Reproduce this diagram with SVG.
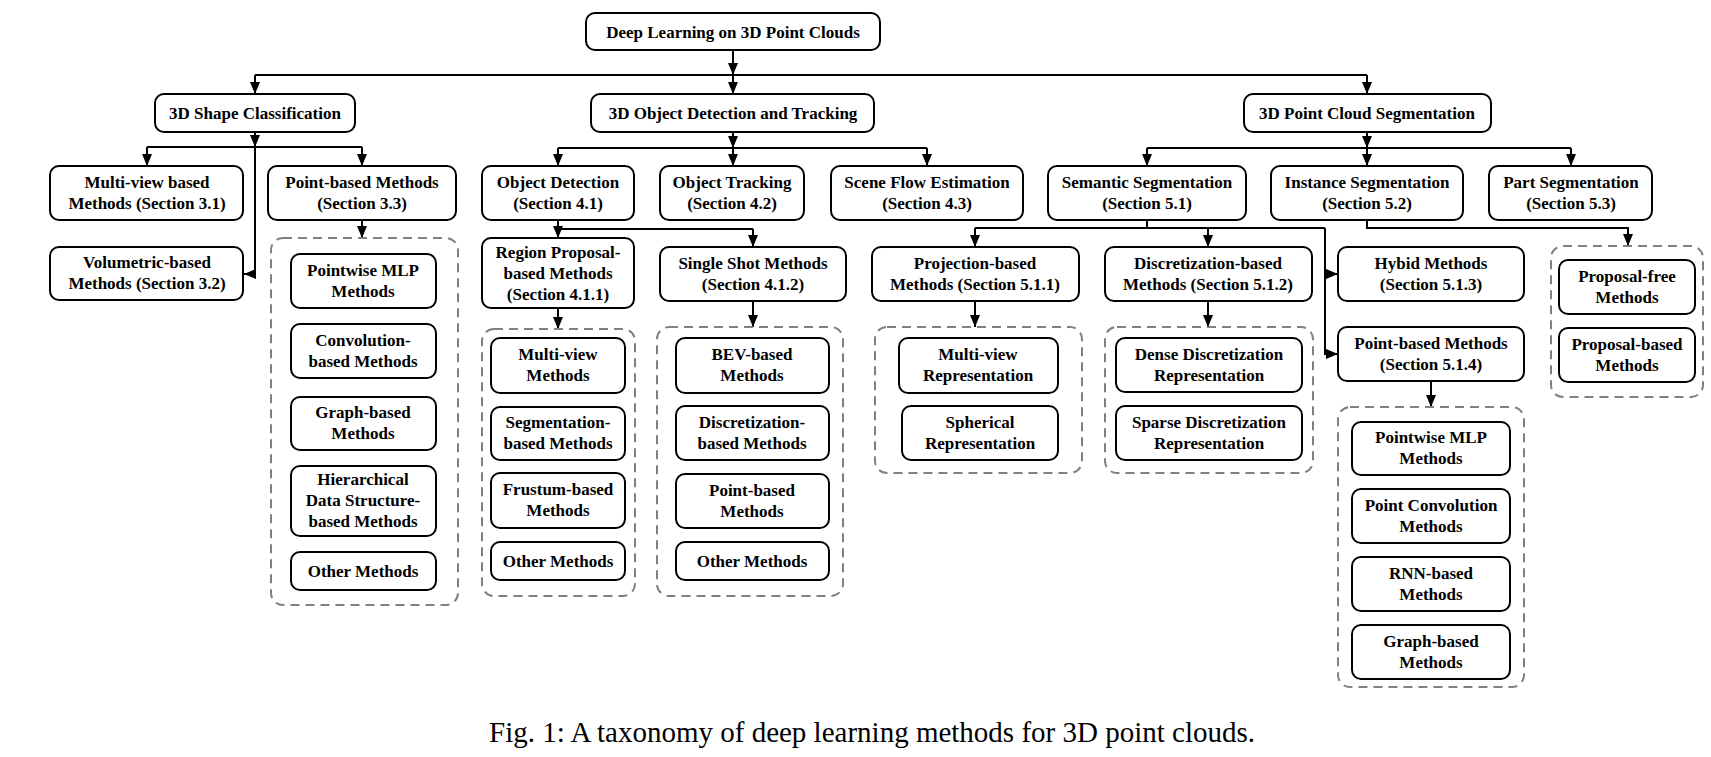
<svg xmlns="http://www.w3.org/2000/svg" width="1711" height="757" viewBox="0 0 1711 757">
<style>
.n{fill:#fff;stroke:#000;stroke-width:2}
.d{fill:none;stroke:#808080;stroke-width:2;stroke-dasharray:9 6}
text{font-family:"Liberation Serif","Times New Roman",serif;font-weight:bold;font-size:17px;text-anchor:middle;fill:#000}
.c{fill:none;stroke:#000;stroke-width:2}
.cap{font-weight:normal;font-size:29px}
</style>
<defs>
<marker id="a" markerUnits="userSpaceOnUse" markerWidth="12" markerHeight="10" refX="12" refY="5" orient="auto"><path d="M0,0 L12,5 L0,10 Z" fill="#000"/></marker>
</defs>
<rect width="1711" height="757" fill="#fff"/>
<g id="connectors" class="c">
<path d="M733,50V75" marker-end="url(#a)"/>
<path d="M255,75H1367"/>
<path d="M255,75V94" marker-end="url(#a)"/>
<path d="M733,75V94" marker-end="url(#a)"/>
<path d="M1367,75V94" marker-end="url(#a)"/>
<path d="M255,132V147" marker-end="url(#a)"/>
<path d="M147,147H362"/>
<path d="M147,147V166" marker-end="url(#a)"/>
<path d="M362,147V166" marker-end="url(#a)"/>
<path d="M255,147V274H244" marker-end="url(#a)"/>
<path d="M362,220V238" marker-end="url(#a)"/>
<path d="M733,132V148" marker-end="url(#a)"/>
<path d="M558,148H927"/>
<path d="M558,148V166" marker-end="url(#a)"/>
<path d="M733,148V166" marker-end="url(#a)"/>
<path d="M927,148V166" marker-end="url(#a)"/>
<path d="M558,220V229H753"/>
<path d="M558,229V238" marker-end="url(#a)"/>
<path d="M753,229V247" marker-end="url(#a)"/>
<path d="M558,308V329" marker-end="url(#a)"/>
<path d="M753,301V327" marker-end="url(#a)"/>
<path d="M1367,132V148" marker-end="url(#a)"/>
<path d="M1147,148H1571"/>
<path d="M1147,148V166" marker-end="url(#a)"/>
<path d="M1367,148V166" marker-end="url(#a)"/>
<path d="M1571,148V166" marker-end="url(#a)"/>
<path d="M1147,220V228H1325"/>
<path d="M975,228H1147"/>
<path d="M975,228V247" marker-end="url(#a)"/>
<path d="M1208,228V247" marker-end="url(#a)"/>
<path d="M1325,228V354H1338" marker-end="url(#a)"/>
<path d="M1325,274H1338" marker-end="url(#a)"/>
<path d="M1367,220V228H1628V246" marker-end="url(#a)"/>
<path d="M975,301V327" marker-end="url(#a)"/>
<path d="M1208,301V327" marker-end="url(#a)"/>
<path d="M1431,381V407" marker-end="url(#a)"/>
</g>
<g id="groups">
<rect class="d" x="271" y="238" width="187" height="367" rx="12"/>
<rect class="d" x="482" y="329" width="153" height="267" rx="12"/>
<rect class="d" x="657" y="327" width="186" height="269" rx="12"/>
<rect class="d" x="875" y="327" width="207" height="146" rx="12"/>
<rect class="d" x="1105" y="327" width="208" height="146" rx="12"/>
<rect class="d" x="1338" y="407" width="186" height="280" rx="12"/>
<rect class="d" x="1551" y="246" width="152" height="151" rx="12"/>
</g>
<g id="root"><rect class="n" x="586" y="13" width="294" height="37" rx="9"/><text x="733" y="38">Deep Learning on 3D Point Clouds</text></g>
<g id="shape"><rect class="n" x="155" y="94" width="200" height="38" rx="9"/><text x="255" y="119">3D Shape Classification</text></g>
<g id="objdet"><rect class="n" x="591" y="94" width="283" height="38" rx="9"/><text x="733" y="119">3D Object Detection and Tracking</text></g>
<g id="seg"><rect class="n" x="1244" y="94" width="247" height="38" rx="9"/><text x="1367" y="119">3D Point Cloud Segmentation</text></g>

<g id="mv"><rect class="n" x="50" y="166" width="193" height="54" rx="9"/><text x="147" y="188">Multi-view based<tspan x="147" dy="21">Methods (Section 3.1)</tspan></text></g>
<g id="vol"><rect class="n" x="50" y="247" width="193" height="53" rx="9"/><text x="147" y="268">Volumetric-based<tspan x="147" dy="21">Methods (Section 3.2)</tspan></text></g>
<g id="pb"><rect class="n" x="268" y="166" width="188" height="54" rx="9"/><text x="362" y="188">Point-based Methods<tspan x="362" dy="21">(Section 3.3)</tspan></text></g>
<g id="pb1"><rect class="n" x="291" y="254" width="145" height="54" rx="9"/><text x="363" y="276">Pointwise MLP<tspan x="363" dy="21">Methods</tspan></text></g>
<g id="pb2"><rect class="n" x="291" y="324" width="145" height="54" rx="9"/><text x="363" y="346">Convolution-<tspan x="363" dy="21">based Methods</tspan></text></g>
<g id="pb3"><rect class="n" x="291" y="397" width="145" height="53" rx="9"/><text x="363" y="418">Graph-based<tspan x="363" dy="21">Methods</tspan></text></g>
<g id="pb4"><rect class="n" x="291" y="466" width="145" height="70" rx="9"/><text x="363" y="485">Hierarchical<tspan x="363" dy="21">Data Structure-</tspan><tspan x="363" dy="21">based Methods</tspan></text></g>
<g id="pb5"><rect class="n" x="291" y="552" width="145" height="38" rx="9"/><text x="363" y="577">Other Methods</text></g>

<g id="od"><rect class="n" x="482" y="166" width="152" height="54" rx="9"/><text x="558" y="188">Object Detection<tspan x="558" dy="21">(Section 4.1)</tspan></text></g>
<g id="ot"><rect class="n" x="660" y="166" width="144" height="54" rx="9"/><text x="732" y="188">Object Tracking<tspan x="732" dy="21">(Section 4.2)</tspan></text></g>
<g id="sf"><rect class="n" x="831" y="166" width="192" height="54" rx="9"/><text x="927" y="188">Scene Flow Estimation<tspan x="927" dy="21">(Section 4.3)</tspan></text></g>
<g id="rp"><rect class="n" x="482" y="238" width="152" height="70" rx="9"/><text x="558" y="258">Region Proposal-<tspan x="558" dy="21">based Methods</tspan><tspan x="558" dy="21">(Section 4.1.1)</tspan></text></g>
<g id="rp1"><rect class="n" x="491" y="338" width="134" height="55" rx="9"/><text x="558" y="360">Multi-view<tspan x="558" dy="21">Methods</tspan></text></g>
<g id="rp2"><rect class="n" x="491" y="407" width="134" height="53" rx="9"/><text x="558" y="428">Segmentation-<tspan x="558" dy="21">based Methods</tspan></text></g>
<g id="rp3"><rect class="n" x="491" y="473" width="134" height="55" rx="9"/><text x="558" y="495">Frustum-based<tspan x="558" dy="21">Methods</tspan></text></g>
<g id="rp4"><rect class="n" x="491" y="542" width="134" height="38" rx="9"/><text x="558" y="567">Other Methods</text></g>
<g id="ss"><rect class="n" x="660" y="247" width="186" height="54" rx="9"/><text x="753" y="269">Single Shot Methods<tspan x="753" dy="21">(Section 4.1.2)</tspan></text></g>
<g id="ss1"><rect class="n" x="676" y="338" width="153" height="55" rx="9"/><text x="752" y="360">BEV-based<tspan x="752" dy="21">Methods</tspan></text></g>
<g id="ss2"><rect class="n" x="676" y="406" width="153" height="54" rx="9"/><text x="752" y="428">Discretization-<tspan x="752" dy="21">based Methods</tspan></text></g>
<g id="ss3"><rect class="n" x="676" y="474" width="153" height="54" rx="9"/><text x="752" y="496">Point-based<tspan x="752" dy="21">Methods</tspan></text></g>
<g id="ss4"><rect class="n" x="676" y="542" width="153" height="38" rx="9"/><text x="752" y="567">Other Methods</text></g>

<g id="sem"><rect class="n" x="1048" y="166" width="198" height="54" rx="9"/><text x="1147" y="188">Semantic Segmentation<tspan x="1147" dy="21">(Section 5.1)</tspan></text></g>
<g id="ins"><rect class="n" x="1271" y="166" width="192" height="54" rx="9"/><text x="1367" y="188">Instance Segmentation<tspan x="1367" dy="21">(Section 5.2)</tspan></text></g>
<g id="part"><rect class="n" x="1489" y="166" width="163" height="54" rx="9"/><text x="1571" y="188">Part Segmentation<tspan x="1571" dy="21">(Section 5.3)</tspan></text></g>
<g id="proj"><rect class="n" x="872" y="247" width="207" height="54" rx="9"/><text x="975" y="269">Projection-based<tspan x="975" dy="21">Methods (Section 5.1.1)</tspan></text></g>
<g id="proj1"><rect class="n" x="899" y="338" width="159" height="55" rx="9"/><text x="978" y="360">Multi-view<tspan x="978" dy="21">Representation</tspan></text></g>
<g id="proj2"><rect class="n" x="902" y="406" width="156" height="54" rx="9"/><text x="980" y="428">Spherical<tspan x="980" dy="21">Representation</tspan></text></g>
<g id="disc"><rect class="n" x="1105" y="247" width="207" height="54" rx="9"/><text x="1208" y="269">Discretization-based<tspan x="1208" dy="21">Methods (Section 5.1.2)</tspan></text></g>
<g id="disc1"><rect class="n" x="1116" y="338" width="186" height="54" rx="9"/><text x="1209" y="360">Dense Discretization<tspan x="1209" dy="21">Representation</tspan></text></g>
<g id="disc2"><rect class="n" x="1116" y="406" width="186" height="54" rx="9"/><text x="1209" y="428">Sparse Discretization<tspan x="1209" dy="21">Representation</tspan></text></g>
<g id="hyb"><rect class="n" x="1338" y="247" width="186" height="54" rx="9"/><text x="1431" y="269">Hybid Methods<tspan x="1431" dy="21">(Section 5.1.3)</tspan></text></g>
<g id="pbs"><rect class="n" x="1338" y="327" width="186" height="54" rx="9"/><text x="1431" y="349">Point-based Methods<tspan x="1431" dy="21">(Section 5.1.4)</tspan></text></g>
<g id="pbs1"><rect class="n" x="1352" y="422" width="158" height="53" rx="9"/><text x="1431" y="443">Pointwise MLP<tspan x="1431" dy="21">Methods</tspan></text></g>
<g id="pbs2"><rect class="n" x="1352" y="489" width="158" height="54" rx="9"/><text x="1431" y="511">Point Convolution<tspan x="1431" dy="21">Methods</tspan></text></g>
<g id="pbs3"><rect class="n" x="1352" y="557" width="158" height="54" rx="9"/><text x="1431" y="579">RNN-based<tspan x="1431" dy="21">Methods</tspan></text></g>
<g id="pbs4"><rect class="n" x="1352" y="625" width="158" height="54" rx="9"/><text x="1431" y="647">Graph-based<tspan x="1431" dy="21">Methods</tspan></text></g>
<g id="pf"><rect class="n" x="1559" y="260" width="136" height="54" rx="9"/><text x="1627" y="282">Proposal-free<tspan x="1627" dy="21">Methods</tspan></text></g>
<g id="pbd"><rect class="n" x="1559" y="328" width="136" height="54" rx="9"/><text x="1627" y="350">Proposal-based<tspan x="1627" dy="21">Methods</tspan></text></g>
<text class="cap" x="872" y="742">Fig. 1: A taxonomy of deep learning methods for 3D point clouds.</text>
</svg>
